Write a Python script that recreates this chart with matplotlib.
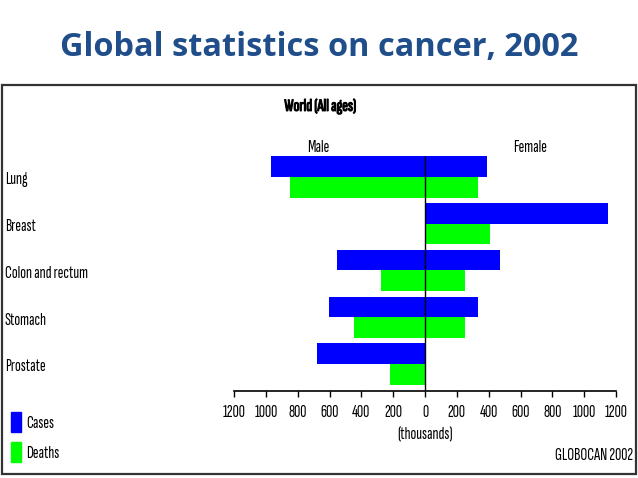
import matplotlib
matplotlib.use("Agg")
import matplotlib.pyplot as plt
from matplotlib.patches import Rectangle
import matplotlib.patheffects as pe
import numpy as np

categories = ["Lung", "Breast", "Colon and rectum", "Stomach", "Prostate"]
male_cases = [965, 0, 550, 603, 679]
male_deaths = [848, 0, 278, 446, 221]
female_cases = [387, 1151, 473, 331, 0]
female_deaths = [330, 411, 251, 254, 0]
xticks = [-1200, -1000, -800, -600, -400, -200, 0, 200, 400, 600, 800, 1000, 1200]
xtick_labels = ["1200", "1000", "800", "600", "400", "200", "0", "200", "400", "600", "800", "1000", "1200"]

NARROW = ["Sofia Sans Extra Condensed", "PT Sans Narrow", "DejaVu Sans"]
FS = 12.5
BLUE = "#0000FF"
GREEN = "#00FF00"

W, H = 638, 478
fig = plt.figure(figsize=(W / 100, H / 100), dpi=100)
fig.patch.set_facecolor("white")

def fx(px):
    return px / W

def fy(py):
    return 1 - py / H

# slide title
fig.text(0.5, fy(47), "Global statistics on cancer, 2002", ha="center", va="center",
         fontsize=23.4, fontweight="bold", color="#1F4E8A", family=["Open Sans", "DejaVu Sans"])

# frame
fig.add_artist(Rectangle((fx(1.5), fy(474)), fx(634.5), fy(85) - fy(474), transform=fig.transFigure,
                         fill=False, edgecolor="#333333", linewidth=1.6))

# axes
ax_left, ax_right = 234, 616
ax_top, ax_bottom = 153.6, 391
ax = fig.add_axes([fx(ax_left), fy(ax_bottom), fx(ax_right - ax_left), fy(ax_top) - fy(ax_bottom)])
ax.set_xlim(-1200, 1200)
ax.set_ylim(4.578, -0.5)

y = np.arange(len(categories))
h = 0.44
ax.barh(y - h / 2, -np.array(male_cases), height=h, color=BLUE)
ax.barh(y + h / 2, -np.array(male_deaths), height=h, color=GREEN)
ax.barh(y - h / 2, female_cases, height=h, color=BLUE)
ax.barh(y + h / 2, female_deaths, height=h, color=GREEN)
ax.vlines(0, -h, 4.578, color="black", linewidth=1)

for s in ["top", "left", "right"]:
    ax.spines[s].set_visible(False)
ax.spines["bottom"].set_linewidth(1.2)
ax.set_yticks([])
ax.set_xticks(xticks)
ax.set_xticklabels(xtick_labels, family=NARROW, fontsize=FS)
ax.tick_params(axis="x", direction="out", length=4, width=1, pad=6)
ax.patch.set_alpha(0)

fig.text(fx(425), fy(435), "(thousands)", ha="center", va="center", family=NARROW, fontsize=FS)

# category labels
for i, c in enumerate(categories):
    yy = ax.transData.transform((0, i))[1] / fig.bbox.height - 3 / H
    fig.text(fx(5), yy, c, ha="left", va="center", family=NARROW, fontsize=FS)

fig.text(fx(320), fy(106), "World (All ages)", ha="center", va="center", family=NARROW,
         fontsize=FS, fontweight="bold",
         path_effects=[pe.withStroke(linewidth=0.8, foreground="black")])
fig.text(fx(318), fy(147), "Male", ha="center", va="center", family=NARROW, fontsize=FS)
fig.text(fx(530), fy(147), "Female", ha="center", va="center", family=NARROW, fontsize=FS)

# legend
for py, col, lab in [(422, BLUE, "Cases"), (452, GREEN, "Deaths")]:
    fig.add_artist(Rectangle((fx(11), fy(py + 10)), fx(10), fy(py - 10) - fy(py + 10),
                             transform=fig.transFigure, color=col))
    fig.text(fx(26), fy(py + 1), lab, ha="left", va="center", family=NARROW, fontsize=FS)

fig.text(fx(633), fy(455), "GLOBOCAN 2002", ha="right", va="center", family=NARROW, fontsize=FS)

fig.savefig("out.png", dpi=100)
